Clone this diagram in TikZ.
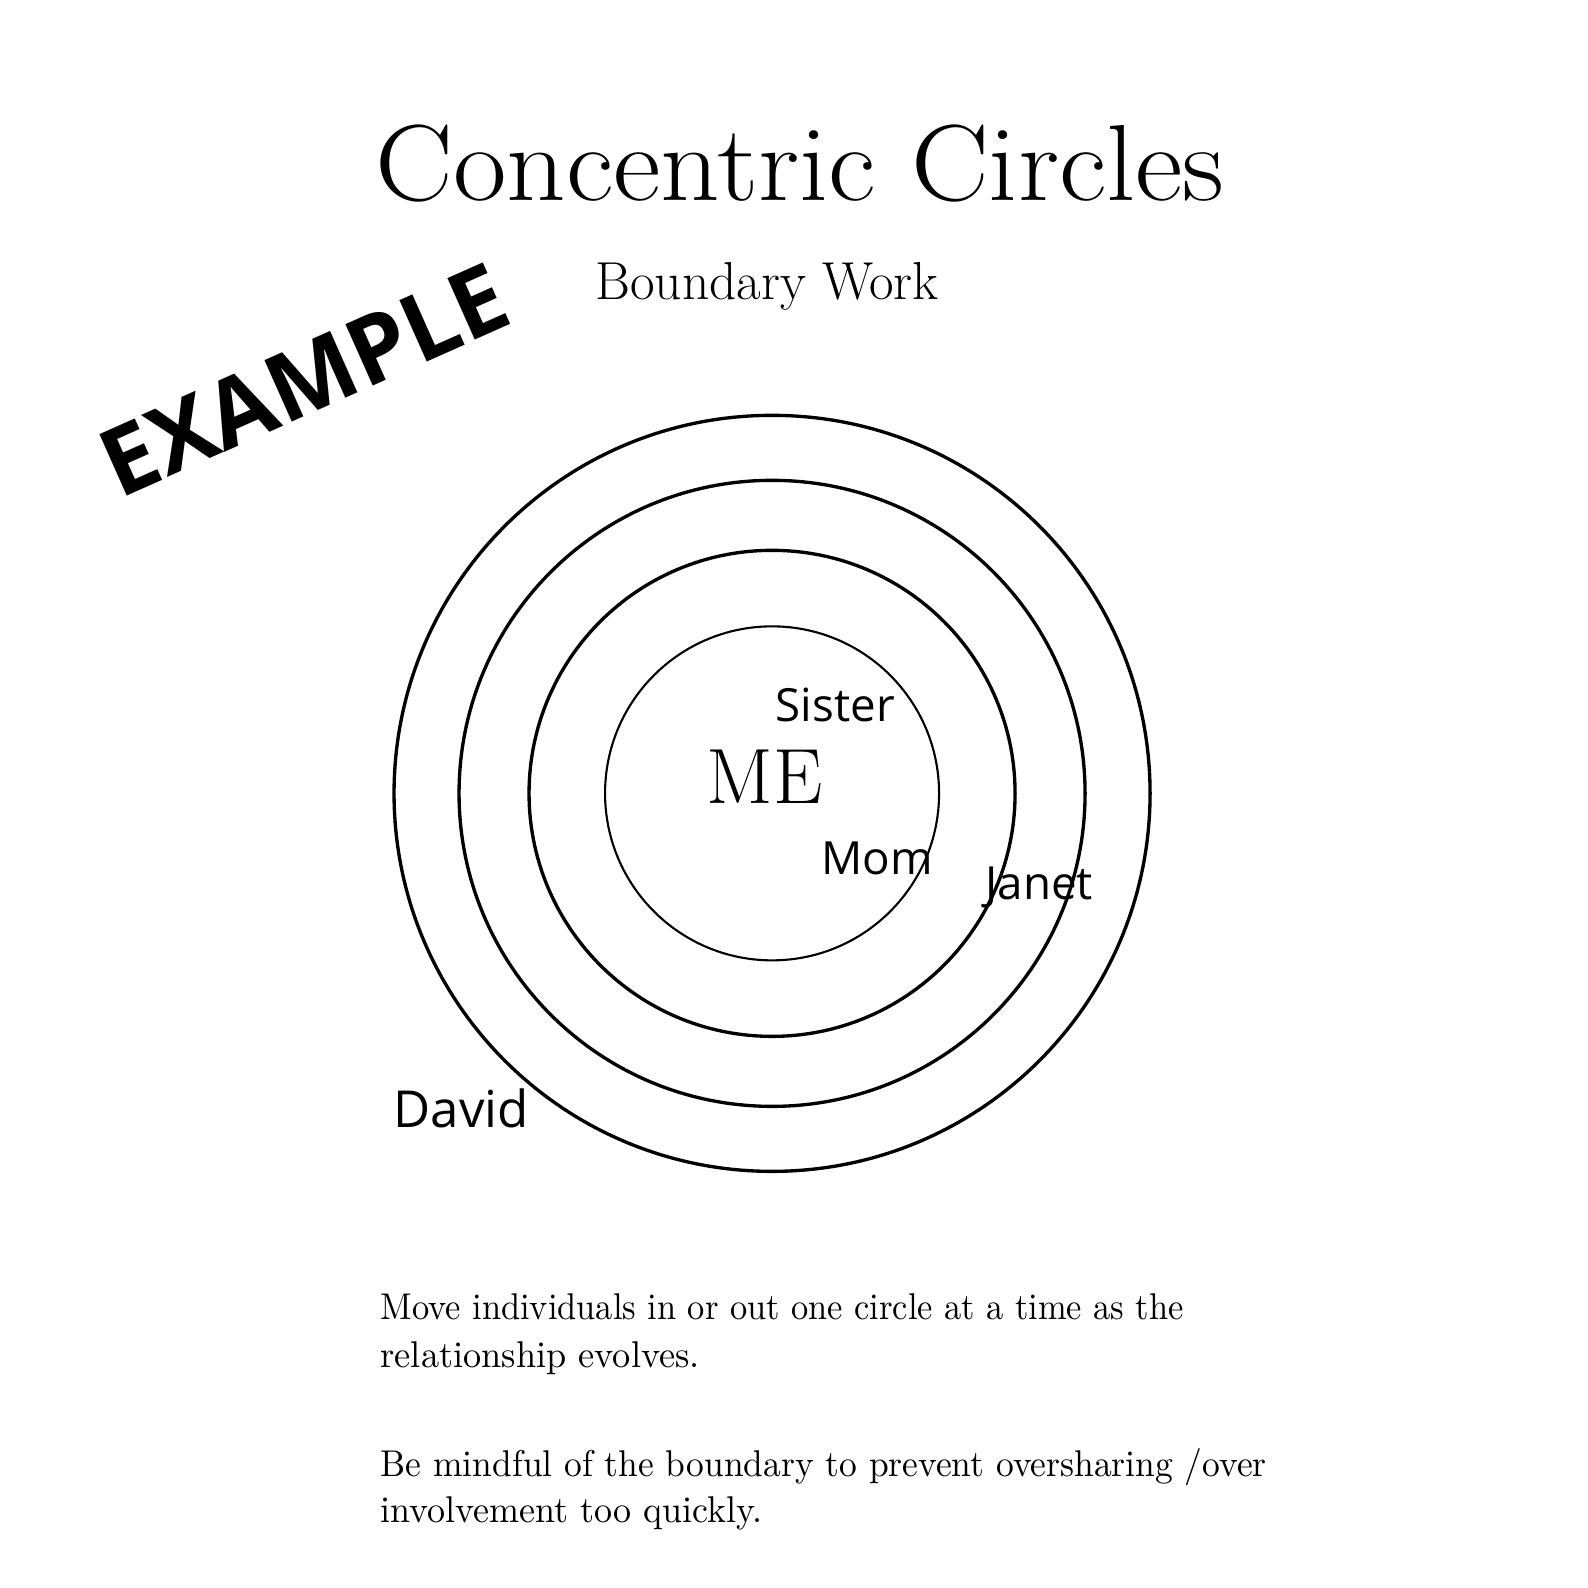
\documentclass[tikz,border=0pt]{standalone}
\usepackage{fontspec}
\newfontfamily\labelfont{Open Sans}
\begin{document}
\begin{tikzpicture}[x=0.010132cm,y=-0.010132cm,
  ring/.style={draw=black,line width=0.95pt},
  thinring/.style={draw=black,line width=0.6pt},
  title/.style={anchor=base west,inner sep=0pt,font=\fontsize{30.8}{34}\selectfont},
  subtitle/.style={anchor=base west,inner sep=0pt,font=\fontsize{15.2}{18}\selectfont},
  me/.style={anchor=base west,inner sep=0pt,font=\fontsize{22.3}{26}\selectfont},
  person/.style={anchor=base west,inner sep=0pt,font=\labelfont\fontsize{13}{15}\selectfont},
  stamp/.style={inner sep=0pt,font=\labelfont\bfseries\fontsize{26.8}{30}\selectfont,rotate=24},
  body/.style={anchor=base west,inner sep=0pt,font=\fontsize{10.6}{13}\selectfont}]
\path[use as bounding box,fill=white] (0,0) rectangle (1567.3,1567.3);
\coordinate (c) at (762,783);
\draw[ring] (c) circle[radius=3.78cm];
\draw[ring] (c) circle[radius=3.13cm];
\draw[ring] (c) circle[radius=2.43cm];
\draw[thinring] (c) circle[radius=1.67cm];
\node[title] (t) at (370,198) {\resizebox{8.49cm}{\height}{Concentric Circles}};
\node[subtitle] (st) at (587,296) {Boundary Work};
\node[stamp] (ex) at (300,375) {EXAMPLE};
\node[me] (me) at (697,793) {ME};
\node[person] (sister) at (765,712) {Sister};
\node[person] (mom) at (810,863) {Mom};
\node[person] (janet) at (972,888) {Janet};
\node[person,font=\labelfont\fontsize{14.5}{17}\selectfont] (david) at (388,1113) {David};
\node[body] (b1) at (375,1302) {\resizebox{8.03cm}{\height}{Move individuals in or out one circle at a time as the}};
\node[body] (b2) at (375,1350) {\resizebox{3.19cm}{\height}{relationship evolves.}};
\node[body] (b3) at (375,1457) {\resizebox{8.86cm}{\height}{Be mindful of the boundary to prevent oversharing /over}};
\node[body] (b4) at (375,1503) {\resizebox{3.82cm}{\height}{involvement too quickly.}};
\end{tikzpicture}
\end{document}
